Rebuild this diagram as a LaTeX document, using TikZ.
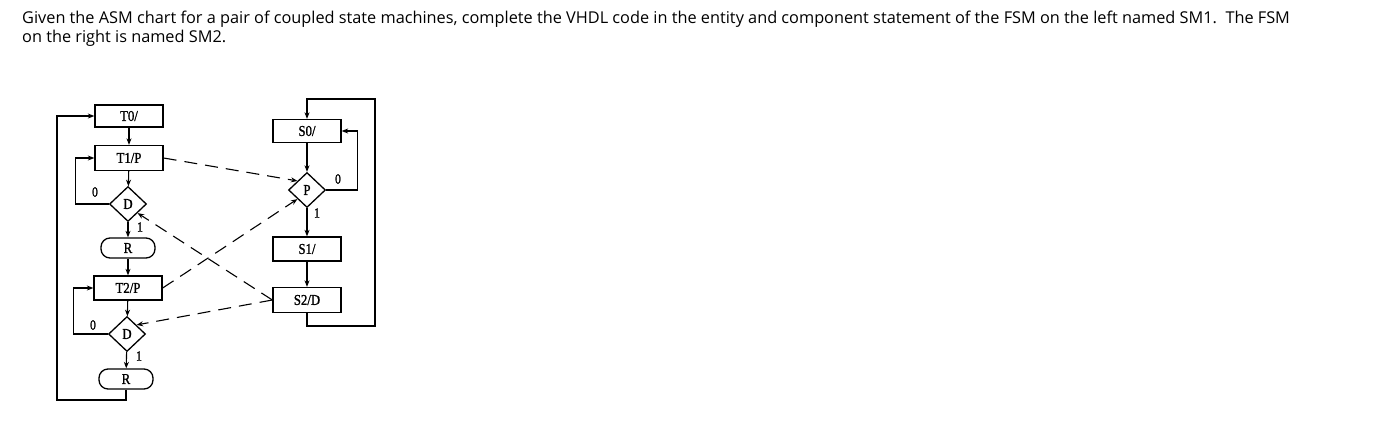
\documentclass[tikz,border=0pt]{standalone}
\usepackage{fontspec}
\setmainfont{Open Sans}
\newfontfamily\chartfont[FakeStretch=0.85,FakeBold=1.2]{Liberation Serif}
\usepackage{tikz}
\usetikzlibrary{positioning, calc, shapes.geometric, arrows.meta}
\tikzset{state/.style = {rectangle,draw,line width=1.3pt,minimum width=68pt,minimum height=24pt,inner sep=0pt,font=\chartfont\fontsize{15}{15}\selectfont},
         cond/.style = {diamond,draw,line width=1.3pt,minimum width=37pt,minimum height=35pt,inner sep=0pt,font=\chartfont\fontsize{15}{15}\selectfont},
         outp/.style = {rectangle,rounded corners=9pt,draw,line width=1.3pt,minimum width=54pt,minimum height=20pt,inner sep=0pt,font=\chartfont\fontsize{15}{15}\selectfont},
         val/.style = {inner sep=0pt,font=\chartfont\fontsize{14}{14}\selectfont},
         flow/.style = {-{Stealth[length=6.5pt,width=5pt]},line width=1.1pt},
         link/.style = {flow,dash pattern=on 13pt off 8pt,line width=1.1pt}}

\begin{document}
\begin{tikzpicture}[x=1pt,y=-1pt]
        \useasboundingbox (0,0) rectangle (1391,429);
        \node [anchor=base west,inner sep=0pt,font=\fontsize{16.3}{16.3}\selectfont] (line1) at (22,23) {Given the ASM chart for a pair of coupled state machines, complete the VHDL code in the entity and component statement of the FSM on the left named SM1.\ \ The FSM};
        \node [anchor=base west,inner sep=0pt,font=\fontsize{16.3}{16.3}\selectfont] (line2) at (22,42) {on the right is named SM2.};
        \begin{scope}
            \node [state,minimum height=22pt] (T0) at (129,116) {T0/};
            \node [state,minimum height=25pt] (T1) at (129,158) {T1/P};
            \node [cond] (D1) at (128,204) {D};
            \node [outp] (R1) at (128,248) {R};
            \node [state] (T2) at (128,288) {T2/P};
            \node [cond] (D2) at (127,334) {D};
            \node [outp] (R2) at (126,379) {R};
            \draw [flow] (T0) -- (T1);
            \draw [flow] (T1) -- (D1);
            \draw [flow] (D1) -- (R1);
            \draw [flow] (R1) -- (T2);
            \draw [flow] (T2) -- (D2);
            \draw [flow] (D2) -- (R2);
            \draw [flow] (D1.west) -- ++(-33,0) |- (T1.west);
            \draw [flow] (D2.west) -- ++(-34,0) |- (T2.west);
            \draw [flow] (R2.south) |- (57,400) |- (T0.west);
            \node [val] (d1zero) at (95,192) {0};
            \node [val] (d1one) at (140,227) {1};
            \node [val] (d2zero) at (93,325) {0};
            \node [val] (d2one) at (139,356) {1};
        \end{scope}
        \begin{scope}
            \node [state,minimum height=23pt] (S0) at (307,131) {S0/};
            \node [cond] (P) at (307,190) {P};
            \node [state] (S1) at (307,249) {S1/};
            \node [state,minimum height=25pt] (S2) at (307,300) {S2/D};
            \coordinate (topcorner) at (375,99);
            \draw [flow] (S0) -- (P);
            \draw [flow] (P) -- (S1);
            \draw [flow] (S1) -- (S2);
            \draw [flow] (P.east) -- ++(31,0) |- (S0.east);
            \draw [flow] (S2.south) |- (375,326) -- (topcorner) -| (S0.north);
            \node [val] (pzero) at (338,179) {0};
            \node [val] (pone) at (317,213) {1};
        \end{scope}
        \draw [link] (T1.east) -- (P.north west);
        \draw [link] (T2.east) -- (P.south west);
        \draw [link] (S2.west) -- (D1.south east);
        \draw [link] (S2.west) -- (D2.north east);
    \end{tikzpicture}
\end{document}
